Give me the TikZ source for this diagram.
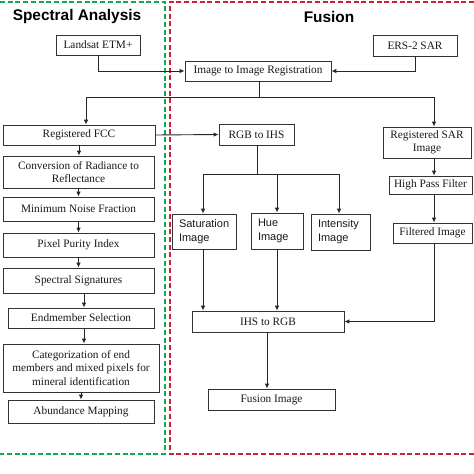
\documentclass[tikz,border=0pt]{standalone}
\usepackage{fontspec}
\setmainfont{Liberation Serif}
\newfontfamily\arialf{Liberation Sans}
\usetikzlibrary{arrows.meta}
\definecolor{grn}{RGB}{20,168,82}
\definecolor{rd}{RGB}{204,34,51}
\begin{document}
\begin{tikzpicture}[x=1pt,y=-1pt,
  box/.style={draw=black!80, line width=0.8pt, inner sep=0pt, align=center,
    font=\fontsize{11.3}{13.5}\selectfont, text=black!90},
  sbox/.style={draw=black!80, line width=0.8pt, inner sep=0pt, align=left,
    font=\arialf\fontsize{11}{14}\selectfont, text=black!90},
  wh/.style 2 args={minimum width=#1pt, minimum height=#2pt},
  arr/.style={line width=0.9pt, draw=black!85, -{Latex[length=5pt,width=4.5pt]}},
  ln/.style={line width=0.9pt, draw=black!85},
  gdash/.style={draw=grn, line width=2pt, dash pattern=on 5pt off 2.7pt},
  rdash/.style={draw=rd, line width=2pt, dash pattern=on 5pt off 2.7pt},
  ttl/.style={font=\arialf\bfseries\fontsize{15.4}{18}\selectfont, inner sep=0pt}]
\useasboundingbox (0,0) rectangle (474,474);
\fill[white] (0,0) rectangle (474,474);

% frames
\coordinate (g1) at (0,2);
\coordinate (g2) at (165,2);
\coordinate (g3) at (165,454);
\coordinate (g4) at (0,454);
\draw[gdash] (g1) -- (g2) -- (g3) -- (g4);
\coordinate (r1) at (474,2);
\coordinate (r2) at (170,2);
\coordinate (r3) at (170,454);
\coordinate (r4) at (474,454);
\draw[rdash] (r1) -- (r2) -- (r3) -- (r4);

% titles
\node[ttl] (t1) at (77,17) {Spectral Analysis};
\node[ttl] (t2) at (329,17) {Fusion};

% top
\node[box, wh={84}{20}] (landsat) at (98,45) {Landsat ETM+};
\node[box, wh={84}{21}] (ers) at (415,45.5) {ERS-2 SAR};
\node[box, wh={146}{20}] (reg) at (258,71) {Image to Image Registration};

% left column
\node[box, wh={152}{20}] (fcc) at (79,135) {Registered FCC};
\node[box, wh={151}{32}] (conv) at (78.5,172) {Conversion of Radiance to\\Reflectance};
\node[box, wh={151}{24}] (mnf) at (78.5,209) {Minimum Noise Fraction};
\node[box, wh={151}{24}] (ppi) at (78.5,245) {Pixel Purity Index};
\node[box, wh={151}{25}] (spec) at (78.5,280.5) {Spectral Signatures};
\node[box, wh={146}{20}] (endm) at (81,318) {Endmember Selection};
\node[box, wh={156}{48}] (cat) at (81,368) {Categorization of end\\members and mixed pixels for\\mineral identification};
\node[box, wh={146}{23}] (abund) at (81,411.5) {Abundance Mapping};

% right part
\node[box, wh={75}{21}] (rgb) at (256.5,134.5) {RGB to IHS};
\node[box, wh={88}{31}] (sar) at (427,142.5) {Registered SAR\\Image};
\node[box, wh={83}{18}] (hpf) at (430.5,185) {High Pass Filter};
\node[box, wh={79}{20}] (filt) at (432.5,233) {Filtered Image};
\node[sbox, wh={64}{35}, text width=50pt] (sat) at (204,231.5) {Saturation\\Image};
\node[sbox, wh={52}{36}, text width=38pt] (hue) at (277,231) {Hue\\Image};
\node[sbox, wh={59}{36}, text width=45pt] (int) at (340.5,232) {Intensity\\Image};
\node[box, wh={152}{21}] (ihs) at (268,321.5) {IHS to RGB};
\node[box, wh={127}{21}] (fus) at (271.5,399.5) {Fusion Image};

% connectors top
\draw[arr] (landsat.south) |- (reg.west);
\draw[arr] (ers.south) |- (reg.east);
\coordinate (j1) at (259,97);
\coordinate (j1l) at (86,97);
\coordinate (j1r) at (434,97);
\draw[ln] (reg.south -| j1) -- (j1);
\draw[ln] (j1l) -- (j1r);
\draw[arr] (j1l) -- (fcc.north -| j1l);
\draw[arr] (j1r) -- (sar.north -| j1r);

% left chain
\draw[arr] (fcc.east) -- (rgb.west);
\draw[arr] (fcc.south) -- (conv.north -| fcc.south);
\draw[arr] (conv.south) -- (mnf.north);
\draw[arr] (mnf.south) -- (ppi.north);
\draw[arr] (ppi.south) -- (spec.north);
\coordinate (xa) at (84,0);
\draw[arr] (spec.south -| xa) -- (endm.north -| xa);
\draw[arr] (endm.south -| xa) -- (cat.north -| xa);
\coordinate (xb) at (81,0);
\draw[arr] (cat.south -| xb) -- (abund.north -| xb);

% IHS fan
\coordinate (j2) at (257,174);
\coordinate (j2l) at (203,174);
\coordinate (j2r) at (339,174);
\draw[ln] (rgb.south -| j2) -- (j2);
\draw[ln] (j2l) -- (j2r);
\draw[arr] (j2l) -- (sat.north -| j2l);
\draw[arr] (hue.north |- j2) -- (hue.north);
\draw[arr] (j2r) -- (int.north -| j2r);
\draw[arr] (sat.south -| j2l) -- (ihs.north -| j2l);
\draw[arr] (hue.south) -- (ihs.north -| hue.south);

% SAR chain
\draw[arr] (sar.south -| j1r) -- (hpf.north -| j1r);
\draw[arr] (hpf.south -| j1r) -- (filt.north -| j1r);
\draw[arr] (filt.south -| j1r) |- (ihs.east);
\coordinate (xc) at (267,0);
\draw[arr] (ihs.south -| xc) -- (fus.north -| xc);
\end{tikzpicture}
\end{document}
